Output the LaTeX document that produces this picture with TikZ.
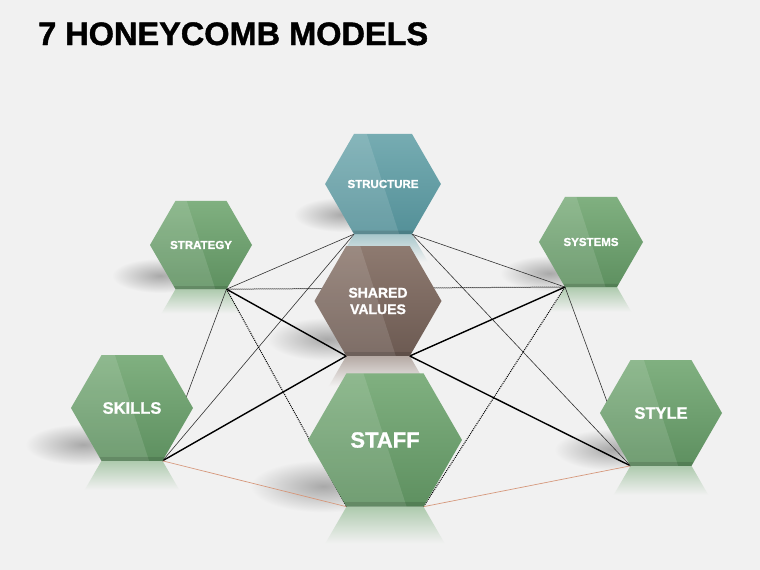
\documentclass[tikz,border=0pt]{standalone}
\usepackage{fontspec}
\setmainfont{Liberation Sans}
\newfontfamily\titlefont{Liberation Sans}[BoldFeatures={FakeBold=1.2}]
\usetikzlibrary{shapes.geometric, calc, positioning}
\definecolor{bggray}{RGB}{241,241,241}
\definecolor{hexgreen}{RGB}{128,176,128}
\definecolor{hexgreendk}{RGB}{94,144,96}
\definecolor{hexteal}{RGB}{118,172,178}
\definecolor{hextealdk}{RGB}{84,144,152}
\definecolor{hexbrown}{RGB}{142,122,112}
\definecolor{hexbrowndk}{RGB}{108,90,82}
\definecolor{linkorange}{RGB}{214,152,124}
\definecolor{linkgray}{RGB}{50,50,50}
\pgfdeclarelayer{back}
\pgfsetlayers{back,main}

\tikzset{
  hexa/.style={regular polygon, regular polygon sides=6, minimum size=#1,
    inner sep=0pt, outer sep=0pt, text=white, align=center},
  greenhex/.style={top color=hexgreen, bottom color=hexgreendk},
  tealhex/.style={top color=hexteal, bottom color=hextealdk},
  brownhex/.style={top color=hexbrown, bottom color=hexbrowndk},
  thinlink/.style={draw=linkgray, line width=0.6pt},
  thicklink/.style={draw=black, line width=1.4pt},
  dotlink/.style={draw=black, line width=1pt, dash pattern=on 1pt off 1pt},
  warmlink/.style={draw=linkorange, line width=0.7pt},
}

\begin{document}
\begin{tikzpicture}[x=1pt, y=-1pt]
  \useasboundingbox (0,0) rectangle (760,570);

  \node[anchor=base west, inner sep=0pt, font=\titlefont\bfseries\fontsize{32.5}{36}\selectfont] (title) at (38,45) {7 HONEYCOMB MODELS};

  % the seven cells
  \node[hexa=102, tealhex, font=\titlefont\bfseries\fontsize{11.5}{13}\selectfont] (structure) at (383,184) {STRUCTURE};
  \node[hexa=102, greenhex, font=\titlefont\bfseries\fontsize{11.5}{13}\selectfont] (strategy) at (201,245) {STRATEGY};
  \node[hexa=104, greenhex, font=\titlefont\bfseries\fontsize{11.5}{13}\selectfont] (systems) at (591,242) {SYSTEMS};
  \node[hexa=127, brownhex, font=\titlefont\bfseries\fontsize{14}{16.5}\selectfont] (shared) at (378,301) {SHARED\\VALUES};
  \node[hexa=122, greenhex, font=\titlefont\bfseries\fontsize{16.5}{19}\selectfont] (skills) at (132,408) {SKILLS};
  \node[hexa=122, greenhex, font=\titlefont\bfseries\fontsize{16.5}{19}\selectfont] (style) at (661,413) {STYLE};
  \node[hexa=154, greenhex, font=\titlefont\bfseries\fontsize{22}{26}\selectfont] (staff) at (385,440) {STAFF};

  % gloss on the left part and darker rim at the bottom
  \foreach \n in {structure,strategy,systems,shared,skills,style,staff} {
    \fill[white, fill opacity=.12] (\n.120) -- ($(\n.120)!.22!(\n.60)$) -- ($(\n.240)!.78!(\n.300)$) -- (\n.240) -- (\n.180) -- cycle;
    \fill[black, fill opacity=.12] (\n.240) -- (\n.300) -- ($(\n.300)!.07!(\n.0)$) -- ($(\n.240)!.07!(\n.180)$) -- cycle;
  }

  \begin{pgfonlayer}{back}
    \fill[bggray] (0,0) rectangle (760,570);
    % shadows
    \foreach \n/\r in {structure/51, strategy/51, systems/52, shared/63.5, skills/61, style/61, staff/77}
      \shade[inner color=black!30!bggray, outer color=bggray]
        ($(\n.center)+(-0.8*\r,0.6*\r)$) ellipse ({0.95*\r} and {0.34*\r});
    % reflections
    \foreach \n/\c in {structure/hexteal, strategy/hexgreen, systems/hexgreen, shared/hexbrown, skills/hexgreen, style/hexgreen, staff/hexgreen}
      \shade[top color=\c!60!bggray, bottom color=bggray]
        (\n.240) -- (\n.300) -- ($(\n.300)!.55!($(\n.0)+(\n.300)-(\n.60)$)$)
        -- ($(\n.240)!.55!($(\n.180)+(\n.240)-(\n.120)$)$) -- cycle;
    % links
    \draw[thinlink] (strategy.300) -- (structure.240);
    \draw[thinlink] (structure.240) -- (skills.300);
    \draw[thinlink] (strategy.300) -- (skills.300);
    \draw[thinlink] (structure.300) -- (systems.240);
    \draw[thinlink] (structure.300) -- (style.240);
    \draw[thinlink] (systems.240) -- (style.240);
    \draw[dotlink] (strategy.300) -- (systems.240);
    \draw[dotlink] (strategy.300) -- (staff.240);
    \draw[dotlink] (systems.240) -- (staff.300);
    \draw[thicklink] (strategy.300) -- (shared.240);
    \draw[thicklink] (shared.240) -- (skills.300);
    \draw[thicklink] (systems.240) -- (shared.300);
    \draw[thicklink] (shared.300) -- (style.240);
    \draw[warmlink] (skills.300) -- (staff.240);
    \draw[warmlink] (staff.300) -- (style.240);
  \end{pgfonlayer}
\end{tikzpicture}
\end{document}
